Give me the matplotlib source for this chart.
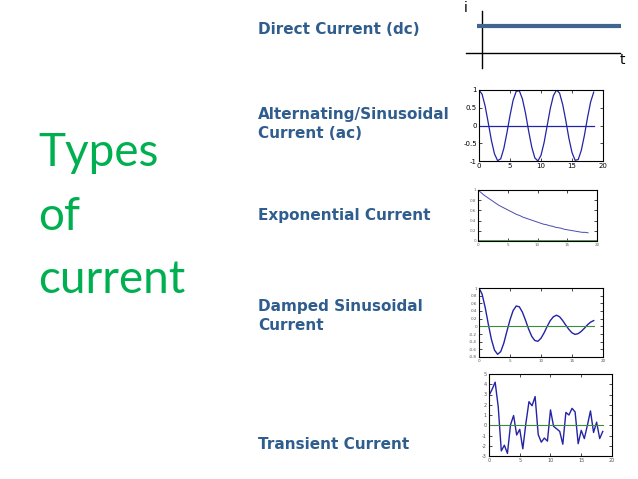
import matplotlib
matplotlib.use("Agg")
import matplotlib.pyplot as plt

W, H = 638, 479

# time samples shared by the four waveform plots
T = [0.0, 0.5, 1.0, 1.5, 2.0, 2.5, 3.0, 3.5, 4.0, 4.5, 5.0, 5.5, 6.0, 6.5,
     7.0, 7.5, 8.0, 8.5, 9.0, 9.5, 10.0, 10.5, 11.0, 11.5, 12.0, 12.5, 13.0,
     13.5, 14.0, 14.5, 15.0, 15.5, 16.0, 16.5, 17.0, 17.5, 18.0, 18.5]

AC = [1.00, 0.88, 0.54, 0.07, -0.42, -0.80, -0.99, -0.94, -0.65, -0.21, 0.28,
      0.71, 0.96, 0.98, 0.75, 0.35, -0.15, -0.60, -0.91, -1.00, -0.84, -0.48,
      0.00, 0.48, 0.84, 1.00, 0.91, 0.59, 0.14, -0.36, -0.76, -0.98, -0.96,
      -0.70, -0.28, 0.22, 0.66, 0.94]

EXPO = [1.00, 0.95, 0.90, 0.86, 0.82, 0.78, 0.74, 0.70, 0.67, 0.64, 0.61,
        0.58, 0.55, 0.52, 0.50, 0.47, 0.45, 0.43, 0.41, 0.39, 0.37, 0.35,
        0.33, 0.32, 0.30, 0.29, 0.27, 0.26, 0.25, 0.23, 0.22, 0.21, 0.20,
        0.19, 0.18, 0.17, 0.17, 0.16]

DAMPED = [1.00, 0.84, 0.49, 0.06, -0.34, -0.62, -0.73, -0.66, -0.44, -0.13,
          0.17, 0.41, 0.53, 0.51, 0.37, 0.16, -0.07, -0.26, -0.37, -0.39,
          -0.31, -0.17, 0.00, 0.15, 0.25, 0.29, 0.25, 0.15, 0.03, -0.08,
          -0.17, -0.21, -0.19, -0.13, -0.05, 0.04, 0.11, 0.15]

TRANSIENT = [2.9, 3.5, 4.2, 1.8, -2.5, -1.95, -2.75, 0.05, 0.95, -0.95, -0.4,
             -2.3, 0.2, 2.3, 1.9, 2.8, -0.9, -1.65, -1.25, -1.55, 1.5, -0.1,
             -0.35, -0.6, -1.85, 1.25, 1.0, 1.65, 1.3, -1.8, -0.5, -1.3, 0.0,
             1.4, -0.7, 0.3, -1.3, -0.6]

X_TICKS = [0, 5, 10, 15, 20]
X_LABELS = ['0', '5', '10', '15', '20']
AC_YTICKS = [-1, -0.5, 0, 0.5, 1]
AC_YLABELS = ['-1', '-0.5', '0', '0.5', '1']
EXP_YTICKS = [0, 0.2, 0.4, 0.6, 0.8, 1]
EXP_YLABELS = ['0', '0.2', '0.4', '0.6', '0.8', '1']
DAMP_YTICKS = [-0.8, -0.6, -0.4, -0.2, 0, 0.2, 0.4, 0.6, 0.8, 1]
DAMP_YLABELS = ['-0.8', '-0.6', '-0.4', '-0.2', '0', '0.2', '0.4', '0.6', '0.8', '1']
TR_YTICKS = [-3, -2, -1, 0, 1, 2, 3, 4, 5]
TR_YLABELS = ['-3', '-2', '-1', '0', '1', '2', '3', '4', '5']

# dc sketch: constant current over the visible time span
DC_T = [-5, 139]
DC_I = [27, 27]

LABELS = [
    (['Direct Current (dc)'], [34]),
    (['Alternating/Sinusoidal', 'Current (ac)'], [119, 138]),
    (['Exponential Current'], [220]),
    (['Damped Sinusoidal', 'Current'], [311, 330]),
    (['Transient Current'], [449]),
]

BLUE_LINE = '#2323a6'
GREEN_LINE = '#3c8c3c'
LABEL_BLUE = '#2f5d8e'
TITLE_GREEN = '#00b050'

fig = plt.figure(figsize=(W / 100, H / 100), dpi=100)
fig.patch.set_facecolor('white')


def px_axes(left, top, right, bottom):
    return fig.add_axes([left / W, 1 - bottom / H, (right - left) / W, (bottom - top) / H])


def fy(y):
    return 1 - y / H


# big green title on the left
for word, base in zip(['Types', 'of', 'current'], [166, 230, 293]):
    fig.text(38 / W, fy(base), word, fontsize=33, family='Lato',
             color=TITLE_GREEN, va='baseline', ha='left')

# blue bold labels
for lines, bases in LABELS:
    for line, base in zip(lines, bases):
        fig.text(258 / W, fy(base), line, fontsize=11, fontweight='bold',
                 family='DejaVu Sans', color=LABEL_BLUE, va='baseline', ha='left')

# dc sketch
ax = px_axes(460, 0, 630, 75)
ax.set_xlim(-22, 148)
ax.set_ylim(-22, 53)
ax.axis('off')
ax.plot([0, 0], [-15, 42], color='black', lw=1)
ax.plot([-16, 138], [0, 0], color='black', lw=1)
ax.plot(DC_T, DC_I, color='#41658f', lw=3, solid_capstyle='butt')
ax.text(-16, 45, 'i', fontsize=10, ha='center', va='center')
ax.text(140, -7, 't', fontsize=10, ha='center', va='center')


def style(ax, yticks, ylabels, ylim, size, color):
    ax.set_xlim(0, 20)
    ax.set_ylim(*ylim)
    ax.set_xticks(X_TICKS)
    ax.set_xticklabels(X_LABELS)
    ax.set_yticks(yticks)
    ax.set_yticklabels(ylabels)
    ax.tick_params(direction='in', length=2, width=0.5, labelsize=size,
                   labelcolor=color, top=True, right=True, pad=1.5)
    for s in ax.spines.values():
        s.set_linewidth(0.8)


# ac
ax = px_axes(479, 90, 603, 161)
ax.plot(T, AC, color=BLUE_LINE, lw=0.9)
ax.plot([T[0], T[-1]], [0, 0], color=BLUE_LINE, lw=0.9)
style(ax, AC_YTICKS, AC_YLABELS, (-1, 1), 5, 'black')

# exponential
ax = px_axes(478, 190, 597, 241)
ax.plot(T, EXPO, color='#4a4ab0', lw=0.7)
ax.plot([0, 20], [0, 0], color=GREEN_LINE, lw=1.2)
style(ax, EXP_YTICKS, EXP_YLABELS, (0, 1), 3, '#666666')

# damped sinusoid
ax = px_axes(479, 288, 603, 357)
ax.plot(T, DAMPED, color=BLUE_LINE, lw=1.0)
ax.plot([T[0], T[-1]], [0, 0], color=GREEN_LINE, lw=0.8)
style(ax, DAMP_YTICKS, DAMP_YLABELS, (-0.8, 1), 3, '#555555')

# transient
ax = px_axes(489, 374, 612, 456)
ax.plot(T, TRANSIENT, color=BLUE_LINE, lw=1.0)
ax.plot([T[0], T[-1]], [0, 0], color=GREEN_LINE, lw=0.8)
style(ax, TR_YTICKS, TR_YLABELS, (-3, 5), 3.5, '#555555')

fig.savefig('out.png', dpi=100, facecolor='white')
